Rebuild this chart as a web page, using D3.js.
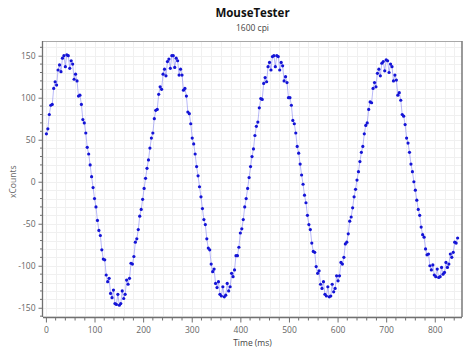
<!DOCTYPE html>
<html><head><meta charset="utf-8">
<script src="https://cdn.jsdelivr.net/npm/d3@7"></script>
<style>
html,body{margin:0;padding:0;background:#fff;}
svg{display:block;}
text{font-family:"Open Sans","Noto Sans",sans-serif;}
</style></head>
<body><svg id="c" width="474" height="355"></svg>
<script>
const title = "MouseTester";
const subtitle = "1600 cpi";
const xTitle = "Time (ms)";
const yTitle = "xCounts";
const xTickValues = [0,100,200,300,400,500,600,700,800];
const yTickValues = [-150,-100,-50,0,50,100,150];
const timeMs = [1,4,7,10,13,16,19,22,25,28,31,34,37,40,
43,46,49,52,55,58,61,64,67,70,73,76,79,82,85,88,91,94,97,100,103,106,109,112,115,118,121,124,127,130,133,136,139,142,145,148,
151,154,157,160,163,166,169,172,175,178,181,184,187,190,193,196,199,202,205,208,211,214,217,220,223,226,229,232,235,238,241,244,247,250,253,256,259,
262,265,268,271,274,277,280,283,286,289,292,295,298,301,304,307,310,313,316,319,322,325,328,331,334,337,340,343,346,349,352,355,358,361,364,
367,370,373,376,379,382,385,388,391,394,397,400,403,406,409,412,415,418,421,424,427,430,433,436,439,442,445,448,451,454,457,460,463,466,469,472,
475,478,481,484,487,490,493,496,499,502,505,508,511,514,517,520,523,526,529,532,535,538,541,544,547,550,553,556,559,562,565,568,571,574,577,580,
583,586,589,592,595,598,601,604,607,610,613,616,619,622,625,628,631,634,637,640,643,646,649,652,655,658,661,664,667,670,673,676,679,682,685,688,691,694,697,700,
703,706,709,712,715,718,721,724,727,730,733,736,739,742,745,748,751,754,757,760,763,766,769,772,775,778,781,784,787,790,793,796,799,802,805,
808,811,814,817,820,823,826,829,832,835,838,841,844,847];
const xCounts = [57,63,80,91,92,111,119,115,133,139,131,147,150,137,
151,150,135,144,140,122,128,120,102,103,92,74,70,58,41,33,20,6,-7,-20,-30,-46,-58,-64,-81,-92,-93,-111,-119,-115,-133,-138,-129,-145,-146,-134,
-147,-145,-130,-139,-134,-117,-122,-115,-97,-98,-89,-72,-68,-57,-41,-33,-21,-8,4,16,26,40,52,58,75,85,86,104,113,110,128,134,126,143,146,135,150,
150,136,147,144,127,134,127,109,111,102,83,81,69,52,45,33,18,7,-6,-18,-32,-45,-51,-68,-79,-81,-98,-107,-104,-121,-126,-119,-134,-136,-125,
-137,-135,-121,-130,-125,-109,-113,-105,-88,-88,-78,-61,-56,-45,-30,-20,-8,5,18,30,39,55,66,71,88,99,98,117,124,119,137,142,133,149,150,137,
150,149,133,142,138,120,125,118,100,100,91,73,69,58,42,34,21,8,-3,-16,-25,-40,-51,-57,-73,-83,-84,-101,-109,-106,-122,-127,-119,-134,-136,-125,
-137,-136,-122,-131,-127,-112,-118,-112,-96,-98,-90,-74,-72,-62,-47,-42,-31,-18,-9,2,12,24,35,42,57,67,70,86,95,94,111,118,113,129,134,126,141,143,132,145,
144,130,140,137,120,127,121,103,106,97,80,78,68,52,46,35,21,12,0,-10,-22,-33,-40,-54,-63,-66,-80,-87,-86,-100,-105,-99,-111,-113,-104,
-114,-113,-102,-110,-108,-96,-102,-98,-86,-90,-84,-72,-73,-67];

const data = timeMs.map((t,i)=>({t, v:xCounts[i]}));

const L=43,R=462,T=41,B=317;
const svg=d3.select("#c");
const x=d3.scaleLinear().domain([-6,856]).range([L,R]);
const y=d3.scaleLinear().domain([-161,167.5]).range([B,T]);

// grid
const xMinor=d3.range(0,857,20), yMinor=d3.range(-160,168,10);
const g=svg.append("g");
g.selectAll("line.gx").data(xMinor).join("line")
 .attr("x1",d=>Math.round(x(d))+0.5).attr("x2",d=>Math.round(x(d))+0.5)
 .attr("y1",T).attr("y2",B).attr("stroke","#f0f0f0").attr("stroke-width",1);
g.selectAll("line.gy").data(yMinor).join("line")
 .attr("y1",d=>Math.round(y(d))+0.5).attr("y2",d=>Math.round(y(d))+0.5)
 .attr("x1",L).attr("x2",R).attr("stroke","#f0f0f0").attr("stroke-width",1);

// frame top/right
svg.append("line").attr("x1",L).attr("x2",R).attr("y1",T+0.5).attr("y2",T+0.5).attr("stroke","#a8a8a8");
svg.append("line").attr("x1",R).attr("x2",R).attr("y1",T).attr("y2",B).attr("stroke","#808080").attr("stroke-width",1.6);

// axes
const xAxis=d3.axisBottom(x).tickValues(xTickValues).tickSize(5).tickPadding(4).tickFormat(d3.format("d"));
const yAxis=d3.axisLeft(y).tickValues(yTickValues).tickSize(4).tickPadding(3).tickFormat(d=>String(d));
const gx=svg.append("g").attr("transform",`translate(0,${B+0.5})`).call(xAxis);
const gy=svg.append("g").attr("transform",`translate(${L-0.5},0)`).call(yAxis);
gx.selectAll("line.mn").data(xMinor.filter(d=>d%100!==0)).join("line").attr("class","mn")
 .attr("x1",d=>x(d)).attr("x2",d=>x(d)).attr("y1",0).attr("y2",3);
gy.selectAll("line.mn").data(yMinor.filter(d=>d%50!==0)).join("line").attr("class","mn")
 .attr("y1",d=>y(d)).attr("y2",d=>y(d)).attr("x1",0).attr("x2",-2.5);
[gx,gy].forEach(a=>{
  a.select(".domain").attr("stroke","#707070").attr("stroke-width",1.3);
  a.selectAll(".tick line, line.mn").attr("stroke","#707070");
  a.selectAll("text").attr("fill","#666").style("font-size","8.5px").style("font-family","'Open Sans',sans-serif");
});
gx.select(".domain").attr("d",`M${L},0H${R}`);
gy.select(".domain").attr("d",`M0,${T}V${B}`);

// data line + dots
const line=d3.line().x(d=>x(d.t)).y(d=>y(d.v));
svg.append("path").datum(data).attr("d",line).attr("fill","none")
 .attr("stroke","#7070f0").attr("stroke-width",0.7).attr("opacity",0.7);
svg.append("g").selectAll("circle").data(data).join("circle")
 .attr("cx",d=>x(d.t)).attr("cy",d=>y(d.v)).attr("r",1.6).attr("fill","#1414d6");

// titles
svg.append("text").attr("x",(L+R)/2).attr("y",17).attr("text-anchor","middle")
 .style("font-size","11.5px").style("font-weight","bold").attr("fill","#111").text(title);
svg.append("text").attr("x",(L+R)/2).attr("y",30.5).attr("text-anchor","middle")
 .style("font-size","8.5px").attr("fill","#444").text(subtitle);
svg.append("text").attr("x",(L+R)/2).attr("y",346).attr("text-anchor","middle")
 .style("font-size","8.5px").attr("fill","#444").text(xTitle);
svg.append("text").attr("transform",`translate(16,${y(0)}) rotate(-90)`).attr("text-anchor","middle")
 .style("font-size","8.5px").attr("fill","#666").text(yTitle);
</script></body></html>
